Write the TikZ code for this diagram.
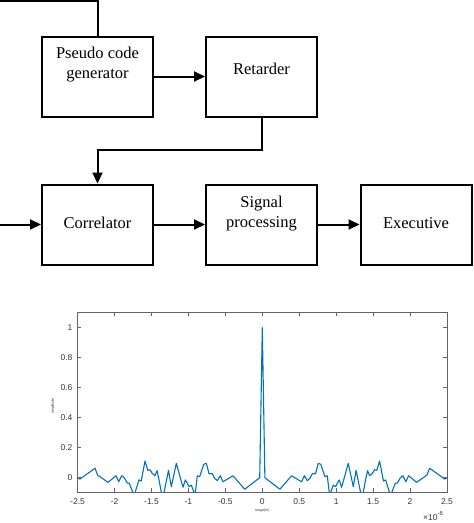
\documentclass[tikz,border=0pt]{standalone}
\usepackage{fontspec}
\setmainfont{Liberation Serif}
\newfontfamily\plotfont{Liberation Sans}
\usetikzlibrary{arrows.meta}
\definecolor{mlblue}{RGB}{0,114,189}
\definecolor{axgray}{RGB}{100,100,100}
\definecolor{lblgray}{RGB}{55,55,55}
\begin{document}
\begin{tikzpicture}[x=1pt,y=-1pt,
  blk/.style={draw=black,line width=2pt,minimum width=111pt,minimum height=80pt,inner sep=0pt},
  lbl/.style={font=\fontsize{16.5}{20}\selectfont,align=center,inner sep=0pt},
  wire/.style={line width=2pt},
  conn/.style={line width=2pt,-{Triangle[length=11pt,width=10pt]}},
  axline/.style={draw=axgray,line width=0.6pt},
  ticklbl/.style={font=\plotfont\fontsize{8.5}{9}\selectfont,text=lblgray,inner sep=0pt},
  tinylbl/.style={font=\plotfont\fontsize{3.6}{4}\selectfont,text=lblgray,inner sep=0pt},
  curve/.style={draw=mlblue,line width=1.1pt,line join=round}
]
\useasboundingbox (0,0) rectangle (474,523);
\fill[white] (0,0) rectangle (474,523);

% blocks
\node[blk] (pcg) at (97.5,76.5) {};
\node[blk] (ret) at (261.5,76.5) {};
\node[blk] (cor) at (97.5,224.5) {};
\node[blk] (sig) at (261.5,224.5) {};
\node[blk] (exe) at (416,224.5) {};

\node[lbl] (pcgt) at (97.5,64.5) {Pseudo code\\generator};
\node[lbl,anchor=base] (rett) at (261.5,74) {Retarder};
\node[lbl,anchor=base] (cort) at (97.5,228) {Correlator};
\node[lbl] (sigt) at (261.5,213.5) {Signal\\processing};
\node[lbl,anchor=base] (exet) at (416,228) {Executive};

% connectors
\coordinate (topin) at (0,1);
\coordinate (bend) at (0,150);
\coordinate (inp) at (0,224.5);
\draw[wire] (topin) -| (pcg.north);
\draw[conn] (pcg.east) -- (ret.west);
\draw[conn] (ret.south) -- (ret.south |- bend) -| (cor.north);
\draw[conn] (inp) -- (cor.west);
\draw[conn] (cor.east) -- (sig.west);
\draw[conn] (sig.east) -- (exe.west);

% plot
\begin{scope}[shift={(262.3,477.7)},x=73.86pt,y=150pt]
  \begin{scope}
    \clip (-2.5,-0.095) rectangle (2.5,1.1);
    \draw[curve] plot coordinates {
      (-2.5,0.0) (-2.47,-0.009) (-2.265,0.063) (-2.23,0.018) (-2.09,-0.031)
      (-1.98,0.013) (-1.944,-0.027) (-1.904,0.013) (-1.87,0.0) (-1.83,-0.035)
      (-1.80,-0.038) (-1.736,-0.12) (-1.67,-0.015) (-1.64,-0.022) (-1.588,0.111)
      (-1.55,0.049) (-1.52,0.053) (-1.49,0.029) (-1.453,0.013) (-1.425,0.047)
      (-1.395,-0.022) (-1.35,-0.145) (-1.27,0.049) (-1.232,-0.06) (-1.164,0.096)
      (-1.074,-0.064) (-1.042,-0.015) (-1.015,-0.038) (-0.992,-0.06) (-0.961,-0.049)
      (-0.911,-0.117) (-0.88,0.013) (-0.848,0.007) (-0.793,0.089) (-0.758,0.096)
      (-0.72,0.025) (-0.681,0.029) (-0.645,-0.004) (-0.609,-0.02) (-0.569,0.013)
      (-0.532,-0.027) (-0.397,0.013) (-0.238,-0.077) (-0.035,0) (0,1)
      (0.035,0) (0.238,-0.077) (0.397,0.013) (0.532,-0.027) (0.569,0.013)
      (0.609,-0.02) (0.645,-0.004) (0.681,0.029) (0.72,0.025) (0.758,0.096)
      (0.793,0.089) (0.848,0.007) (0.88,0.013) (0.911,-0.117) (0.961,-0.049)
      (0.992,-0.06) (1.015,-0.038) (1.042,-0.015) (1.074,-0.064) (1.164,0.096)
      (1.232,-0.06) (1.27,0.049) (1.35,-0.145) (1.395,-0.022) (1.425,0.047)
      (1.453,0.013) (1.49,0.029) (1.52,0.053) (1.55,0.049) (1.588,0.111)
      (1.64,-0.022) (1.67,-0.015) (1.736,-0.12) (1.80,-0.038) (1.83,-0.035)
      (1.87,0.0) (1.904,0.013) (1.944,-0.027) (1.98,0.013) (2.09,-0.031)
      (2.23,0.018) (2.265,0.063) (2.47,-0.009) (2.5,0.0)};
  \end{scope}
  \draw[axline] (-2.5,-0.095) rectangle (2.5,1.1);
  \foreach \xv/\xl in {-2.5/-2.5,-2/-2,-1.5/-1.5,-1/-1,-0.5/-0.5,0/0,0.5/0.5,1/1,1.5/1.5,2/2,2.5/2.5} {
    \draw[axline] (\xv,-0.095) -- ++(0pt,3.5pt);
    \draw[axline] (\xv,1.1) -- ++(0pt,-3.5pt);
    \node[ticklbl,anchor=north] at (\xv,-0.095) [yshift=-6.5pt] {\xl};
  }
  \foreach \yv/\yl in {0/0,0.2/0.2,0.4/0.4,0.6/0.6,0.8/0.8,1/1} {
    \draw[axline] (-2.5,\yv) -- ++(3.5pt,0pt);
    \draw[axline] (2.5,\yv) -- ++(-3.5pt,0pt);
    \node[ticklbl,anchor=east] at (-2.5,\yv) [xshift=-5pt] {\yl};
  }
\end{scope}
\node[tinylbl] (xlab) at (262.3,511) {range(m)};
\node[tinylbl,rotate=90] (ylab) at (53,406) {amplitude};
\node[ticklbl,anchor=base west] (expo) at (423,520) {×10\raisebox{4.5pt}{\fontsize{6}{6}\selectfont -6}};
\end{tikzpicture}
\end{document}
